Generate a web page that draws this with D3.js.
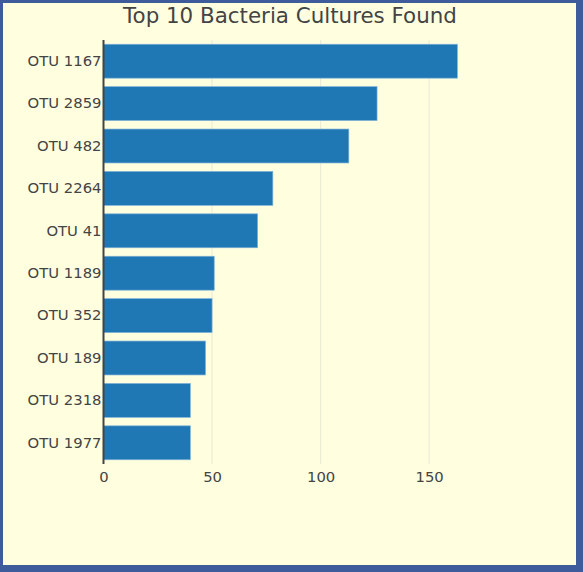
<!DOCTYPE html>
<html>
<head>
<meta charset="utf-8">
<script src="https://cdn.jsdelivr.net/npm/d3@7"></script>
<style>
  html, body { margin: 0; padding: 0; background: #3e5c9b; }
  #bar { position: absolute; left: 3px; top: 3px; width: 573px; height: 562px; background: #ffffe0; }
  text { font-family: "DejaVu Sans", Verdana, sans-serif; fill: #444; }
</style>
</head>
<body>
<div id="bar"></div>
<script>
const otuLabels = ["OTU 1167", "OTU 2859", "OTU 482", "OTU 2264", "OTU 41",
                   "OTU 1189", "OTU 352", "OTU 189", "OTU 2318", "OTU 1977"];
const sampleValues = [163, 126, 113, 78, 71, 51, 50, 47, 40, 40];
const xTicks = [0, 50, 100, 150];

function drawBar(container) {
  const margin = {top: 37, right: 100, bottom: 101, left: 100.5};
  const box = d3.select(container).node().getBoundingClientRect();
  const width = box.width - margin.left - margin.right;
  const height = box.height - margin.top - margin.bottom;

  d3.select(container).selectAll("svg").remove();

  const root = d3.select(container)
    .append("svg")
    .attr("width", box.width)
    .attr("height", box.height);

  root.append("text")
    .attr("x", box.width / 2 + 0.5)
    .attr("y", 19.8)
    .attr("text-anchor", "middle")
    .style("font-size", "21.4px")
    .text("Top 10 Bacteria Cultures Found");

  const svg = root.append("g")
    .attr("transform", `translate(${margin.left},${margin.top})`);

  // plotly-like autorange: a little headroom past the longest bar
  const x = d3.scaleLinear()
    .domain([0, d3.max(sampleValues) / 0.95])
    .range([0, width]);

  const y = d3.scaleBand()
    .domain(otuLabels)
    .range([0, height])
    .paddingInner(0.2)
    .paddingOuter(0.1);

  // grid lines
  svg.selectAll(".grid")
    .data(xTicks.filter(d => d > 0))
    .enter()
    .append("line")
    .attr("class", "grid")
    .attr("x1", d => x(d)).attr("x2", d => x(d))
    .attr("y1", 0).attr("y2", height)
    .attr("stroke", "#ececd6")
    .attr("stroke-width", 1.2);

  svg.selectAll(".bar")
    .data(sampleValues)
    .enter()
    .append("rect")
    .attr("class", "bar")
    .attr("x", x(0))
    .attr("y", (d, i) => y(otuLabels[i]))
    .attr("width", d => x(d) - x(0))
    .attr("height", y.bandwidth())
    .attr("fill", "#1f77b4")
    .attr("stroke", "#7fb2d6")
    .attr("stroke-width", 0.7);

  // zero line
  svg.append("line")
    .attr("x1", x(0)).attr("x2", x(0))
    .attr("y1", 0).attr("y2", height)
    .attr("stroke", "#444")
    .attr("stroke-width", 2);

  const xAxis = svg.append("g")
    .attr("transform", `translate(0,${height})`)
    .call(d3.axisBottom(x).tickValues(xTicks).tickSize(0).tickPadding(7));
  xAxis.select(".domain").remove();
  xAxis.selectAll("text")
    .style("font-size", "14.8px")
    .style("font-family", "'DejaVu Sans', Verdana, sans-serif")
    .attr("fill", "#444");

  const yAxis = svg.append("g")
    .call(d3.axisLeft(y).tickSize(0).tickPadding(2));
  yAxis.select(".domain").remove();
  yAxis.selectAll("text")
    .style("font-size", "14.8px")
    .style("font-family", "'DejaVu Sans', Verdana, sans-serif")
    .attr("fill", "#444");
}

drawBar("#bar");
</script>
</body>
</html>
